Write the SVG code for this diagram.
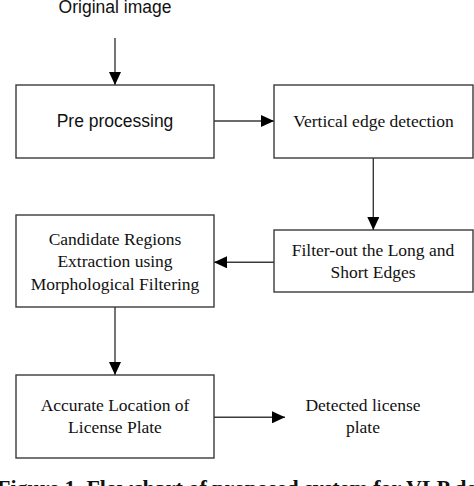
<svg xmlns="http://www.w3.org/2000/svg" width="474" height="486" viewBox="0 0 474 486">
<style>
.box{fill:#fff;stroke:#3a3a3a;stroke-width:1.4}
.con{fill:none;stroke:#3a3a3a;stroke-width:1.4}
.sans{font-family:"Liberation Sans",Arial,sans-serif;font-size:17.5px;fill:#111;text-anchor:middle}
.serif{font-family:"Liberation Serif","Times New Roman",serif;font-size:17.5px;fill:#111;text-anchor:middle}
.cap{font-family:"Liberation Serif","Times New Roman",serif;font-size:22px;font-weight:bold;fill:#111}
</style>
<defs>
<marker id="arr" markerUnits="userSpaceOnUse" markerWidth="13" markerHeight="12" refX="13" refY="6" orient="auto">
<path d="M0,0 L13,6 L0,12 z" fill="#000"/>
</marker>
</defs>
<rect width="474" height="486" fill="#fff"/>
<g id="connectors">
<line class="con" x1="115" y1="38" x2="115" y2="85" marker-end="url(#arr)"/>
<line class="con" x1="214" y1="121" x2="274" y2="121" marker-end="url(#arr)"/>
<line class="con" x1="373.3" y1="158" x2="373.3" y2="230" marker-end="url(#arr)"/>
<line class="con" x1="274" y1="262.3" x2="214" y2="262.3" marker-end="url(#arr)"/>
<line class="con" x1="115" y1="307" x2="115" y2="375" marker-end="url(#arr)"/>
<line class="con" x1="214" y1="417.3" x2="285" y2="417.3" marker-end="url(#arr)"/>
</g>
<g id="original-image">
<text class="sans" x="115" y="13">Original image</text>
</g>
<g id="pre-processing">
<rect class="box" x="16" y="85" width="198" height="73"/>
<text class="sans" x="115" y="127">Pre processing</text>
</g>
<g id="vertical-edge-detection">
<rect class="box" x="274" y="85" width="199" height="73"/>
<text class="serif" x="373.5" y="127">Vertical edge detection</text>
</g>
<g id="filter-out">
<rect class="box" x="274" y="230" width="199" height="62"/>
<text class="serif" x="373" y="256">Filter-out the Long and</text>
<text class="serif" x="373" y="277.7">Short Edges</text>
</g>
<g id="candidate-regions">
<rect class="box" x="16" y="215" width="198" height="92"/>
<text class="serif" x="115" y="245">Candidate Regions</text>
<text class="serif" x="115" y="267.3">Extraction using</text>
<text class="serif" x="115" y="290">Morphological Filtering</text>
</g>
<g id="accurate-location">
<rect class="box" x="16" y="375" width="198" height="83"/>
<text class="serif" x="115" y="410.7">Accurate Location of</text>
<text class="serif" x="115" y="433.3">License Plate</text>
</g>
<g id="detected-plate">
<text class="serif" x="363" y="410.5">Detected license</text>
<text class="serif" x="363" y="433.3">plate</text>
</g>
<text class="cap" x="-3" y="495">Figure 1. Flowchart of proposed system for VLP detection</text>
</svg>
